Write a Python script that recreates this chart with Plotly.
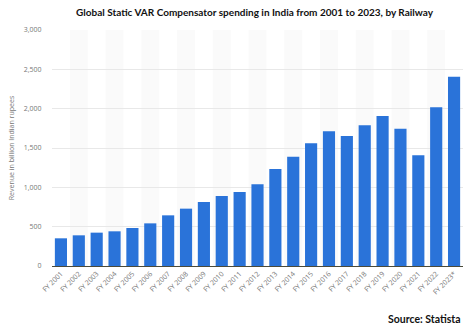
import plotly.graph_objects as go

categories = ["FY 2001", "FY 2002", "FY 2003", "FY 2004", "FY 2005", "FY 2006",
              "FY 2007", "FY 2008", "FY 2009", "FY 2010", "FY 2011", "FY 2012",
              "FY 2013", "FY 2014", "FY 2015", "FY 2016", "FY 2017", "FY 2018",
              "FY 2019", "FY 2020", "FY 2021", "FY 2022", "FY 2023*"]
revenue = [352, 390, 424, 441, 483, 542, 644, 729, 814, 890, 941, 1038,
           1233, 1390, 1560, 1712, 1653, 1788, 1907, 1746, 1407, 2017, 2407]
y_ticks = [0, 500, 1000, 1500, 2000, 2500, 3000]
y_tick_labels = ["0", "500", "1,000", "1,500", "2,000", "2,500", "3,000"]

fig = go.Figure()
fig.add_trace(go.Bar(x=categories, y=revenue, marker=dict(color="#2a73d9", line=dict(width=0)),
                     hoverinfo="x+y"))

shapes = []
for i in range(1, len(categories), 2):
    shapes.append(dict(type="rect", xref="x", yref="paper", x0=i - 0.5, x1=i + 0.5,
                       y0=0, y1=1, fillcolor="#fafafa", line=dict(width=0), layer="below"))

fig.update_layout(
    width=474, height=330,
    margin=dict(l=50, r=11, t=30, b=64),
    paper_bgcolor="white", plot_bgcolor="white",
    bargap=0.32,
    showlegend=False,
    shapes=shapes,
    font=dict(family="Open Sans, sans-serif", color="#666666"),
    title=dict(text="<b>Global Static VAR Compensator spending in India from 2001 to 2023, by Railway</b>",
               x=0.537, xanchor="center", y=0.963, yanchor="middle",
               font=dict(size=10, color="#111111", family="Lato, sans-serif")),
    xaxis=dict(tickangle=-45, tickfont=dict(size=7, color="#777777"), showgrid=False,
               showline=True, linecolor="#4a4a3a", linewidth=1, ticks="", range=[-0.5, len(categories) - 0.5]),
    yaxis=dict(range=[0, 3000], tickvals=y_ticks, ticktext=y_tick_labels,
               tickfont=dict(size=7, color="#777777"), gridcolor="#e8e8e8", gridwidth=1,
               zeroline=False, showline=False, ticks="outside", ticklen=8, tickcolor="white",
               title=dict(text="Revenue in billion Indian rupees", font=dict(size=7, color="#777777"), standoff=8)),
    annotations=[dict(text="<b>Source: Statista</b>", xref="paper", yref="paper", x=1.0, y=-0.225,
                      xanchor="right", yanchor="middle", showarrow=False,
                      font=dict(size=10.5, color="#111111", family="Lato, sans-serif"))],
)

fig.write_html("out.html")
